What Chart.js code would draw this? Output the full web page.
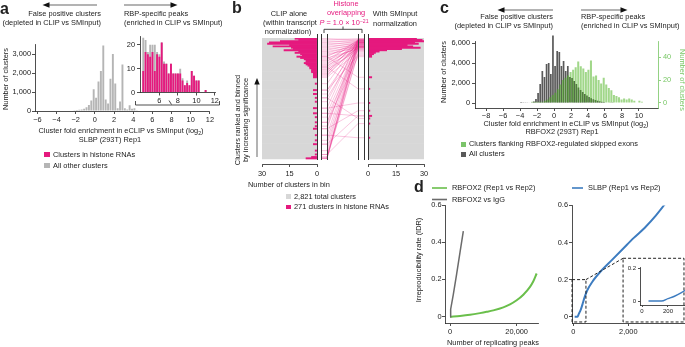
<!DOCTYPE html>
<html><head><meta charset="utf-8">
<script src="https://cdn.jsdelivr.net/npm/chart.js@4.4.1/dist/chart.umd.min.js"></script>
<style>
body{margin:0;background:#fff;width:685px;height:347px;overflow:hidden;position:relative;font-family:'Liberation Sans',Arial,Helvetica,sans-serif;color:#222}
.t{position:absolute;font-size:7.4px;line-height:1;white-space:nowrap;z-index:6}
.lt{position:absolute;font-weight:bold;font-size:16px;line-height:1;z-index:6}
.sq{position:absolute;z-index:6}
canvas{position:absolute}
sub{font-size:70%;vertical-align:-0.3em;line-height:0}
sup{font-size:70%;vertical-align:0.5em;line-height:0}
</style></head><body>
<svg width="685" height="347" style="position:absolute;left:0;top:0;z-index:5" xmlns="http://www.w3.org/2000/svg">
 <line x1="49" y1="5" x2="97" y2="5" stroke="#9a9a9a" stroke-width="1.6"/>
 <polygon points="42.5,5 49.5,2.2 49.5,7.8" fill="#111"/>
 <line x1="124" y1="5" x2="171" y2="5" stroke="#9a9a9a" stroke-width="1.6"/>
 <polygon points="177.5,5 170.5,2.2 170.5,7.8" fill="#111"/>
 <path d="M135.5,101 V105 H219.5 V101" fill="none" stroke="#222" stroke-width="0.8"/>
 <line x1="169" y1="100.5" x2="171.5" y2="104.5" stroke="#222" stroke-width="0.8"/>
 <path d="M324,33 V29.3 H362 V33 M343,29.3 V26.5" fill="none" stroke="#333" stroke-width="0.9"/>
 <line x1="257" y1="157" x2="257" y2="84" stroke="#9a9a9a" stroke-width="1.5"/>
 <polygon points="257,78 254.3,84.5 259.7,84.5" fill="#111"/>
 <line x1="504" y1="10" x2="553" y2="10" stroke="#9a9a9a" stroke-width="1.6"/>
 <polygon points="497.5,10 504.5,7.2 504.5,12.8" fill="#111"/>
 <line x1="581" y1="10" x2="621" y2="10" stroke="#9a9a9a" stroke-width="1.6"/>
 <polygon points="627.5,10 620.5,7.2 620.5,12.8" fill="#111"/>
 <line x1="432" y1="188" x2="447" y2="188" stroke="#6abf4b" stroke-width="1.6"/>
 <line x1="432" y1="199.5" x2="447" y2="199.5" stroke="#6b6b6b" stroke-width="1.6"/>
 <line x1="572" y1="188" x2="583" y2="188" stroke="#3d7cc0" stroke-width="1.6"/>
</svg>
<script>
// ---------- Panel a ----------
const aBinCenters = [-2.375,-2.125,-1.875,-1.625,-1.375,-1.125,-0.875,-0.625,-0.375,-0.125,0.125,0.375,0.625,0.875,1.125,1.375,1.625,1.875,2.125,2.375,2.625,2.875,3.125,3.375,3.625,3.875,4.125,4.375];
const aAllClusters = [20,40,50,60,80,120,200,320,550,1150,700,1550,2100,3450,600,400,1700,3000,1450,150,500,2450,150,80,300,120,150,40];
const aXTicks = [-6,-4,-2,0,2,4,6,8,10,12];
const aYTicks = [0,1000,2000,3000];
const aInsetBins = [4.25,4.5,4.75,5,5.25,5.5,5.75,6,6.25,6.5,6.75,7,7.25,7.5,7.75,8,8.25,8.5,8.75,9,9.25,9.5,9.75,10,10.25,11];
const aInsetTotal = [23,22,17,20,20,20,17,16,21,13,12,8,12,8,8,8,10,6,3,5,3,9,7,5,5,1];
const aInsetHistone = [9,17,16,15,17,9,16,15,21,12,12,8,12,8,8,8,8,5,3,4,3,9,7,5,5,1];
const aInsetXTicks = [6,8,10,12];
const aInsetYTicks = [0,10,20];

// ---------- Panel b ----------
const bBinCount = 94;
const bClustersPerBin = 30;
const bLeftHistone = [12,10,20,26,27,15,24,14,13,18, 10,12,9,8,11,9,7,6,6,7, 6,5,4,4,3,3,3,2,2,2,
 2,0,0,0,0,1,0,0,0,0, 2,0,0,2,0,0,1,0,0,1, 0,0,0,0,2,0,0,0,2,0, 0,1,0,0,0,1,0,0,1,0,
 2,0,0,0,0,1,0,0,0,1, 0,0,2,0,0,0,0,1,0,0, 1,0,3,6];
const bRightHistone = [26,29,30,25,27,21,24,28,18,10, 6,4,3,2,2,0,0,0,0,0, 0,0,0,0,0,0,0,0,0,0,
 2,0,0,0,0,0,0,0,0,1, 0,0,0,0,0,0,0,0,0,0, 1,0,0,0,0,0,1,0,0,0, 2,0,1,0,0,0,1,0,0,0,
 0,0,0,0,0,0,0,1,0,0, 0,0,0,0,0,0,0,0,0,0, 0,0,0,0];
const bXTicks = [0,15,30];
const linkLeftRow  = [0,1,2,3,4,5,6,7,8,9,10,11,12,13,14,15,16,17,18,19,20,21,22,23,24,25,26,27,28,29,30,14,22,35,40,43,46,49,54,58,61,65,68,70,75,79,82,87,90,92,93,93,92,54,70,82,46,90,75,58,93,40,65];
const linkRightRow = [1,0,2,1,3,2,4,3,5,4,6,5,7,6,2,8,3,7,1,6,4,8,2,5,9,3,7,1,6,4,10,30,39,2,5,1,7,3,0,4,8,2,6,1,3,5,9,2,7,4,1,6,11,50,56,60,62,66,77,60,12,13,14];

// ---------- Panel c ----------
const cBinCenters = [-3.875,-3.625,-3.375,-3.125,-2.875,-2.625,-2.375,-2.125,-1.875,-1.625,-1.375,-1.125,-0.875,-0.625,-0.375,-0.125,0.125,0.375,0.625,0.875,1.125,1.375,1.625,1.875,2.125,2.375,2.625,2.875,3.125,3.375,3.625,3.875,4.125,4.375,4.625,4.875,5.125,5.375,5.625,5.875,6.125,6.375,6.625,6.875];
const cAllClusters = [10,15,20,25,35,60,150,400,1000,1900,3200,2600,3900,4000,2900,6750,3700,5200,5100,3700,4200,3200,3700,2600,2500,2200,1900,1550,1300,1100,900,750,600,480,380,300,230,170,120,90,60,40,25,15];
const cFlankBins = [-2.55,-2.25,-1.95,-1.65,-1.35,-1.05,-0.75,-0.45,-0.15,0.15,0.45,0.75,1.05,1.35,1.65,1.95,2.25,2.55,2.85,3.15,3.45,3.75,4.05,4.35,4.65,4.95,5.25,5.55,5.85,6.15,6.45,6.75,7.05,7.35,7.65,7.95,8.25,8.55,8.85,9.15,9.45,9.75,10.05,10.35];
const cFlankClusters = [1,1,1,1,1,2,3,5,7,9,12,16,20,22,24,27,29,31,36,32,30,27,29,37,23,24,20,17,22,16,13,11,7,6,5,3,4,3,4,3,2,0,2,1];
const cXTicks = [-8,-6,-4,-2,0,2,4,6,8,10];
const cYTicks = [0,2000,4000,6000];
const cY2Ticks = [0,20,40];

// ---------- Panel d ----------
const rbfoxRepPeaks = [0,3000,6000,9000,11000,13000,16000,18000,20000,22000,24000,25000,26000];
const rbfoxRepIdr   = [0,0.004,0.01,0.019,0.026,0.034,0.05,0.066,0.088,0.118,0.16,0.19,0.232];
const rbfoxIggPeaks = [0,200,1000,2000,3000,4000];
const rbfoxIggIdr   = [0,0.04,0.12,0.23,0.345,0.46];
const slbpPeaks = [50,100,150,200,250,300,350,400,500,700,1000,1400,1800,2200,2600,3000,3450];
const slbpIdr   = [0,0,0,0.015,0.03,0.05,0.075,0.1,0.14,0.19,0.245,0.305,0.365,0.425,0.48,0.545,0.63];
const dYTicks = [0,0.2,0.4,0.6];
const dLeftXTicks = [0,20000];
const dRightXTicks = [0,2000];
const dInsetXTicks = [0,200];
const dInsetYTicks = [0,0.2];

// ---------- styles ----------
const INK = '#222';
const PINK = '#e5197e';
const GRAY_A = '#b5b5b5';
const GRAY_B = '#d7d7d7';
const DARK = '#595959';
const GREEN_BAR = 'rgba(75,178,30,0.52)';
const GREEN_AX = '#78c765';
const GREEN_LINE = '#6abf4b';
const BLUE = '#3d7cc0';
const FF = "'Liberation Sans', Arial, Helvetica, sans-serif";

function fmt(v){
  const a = Math.abs(v);
  const s = a >= 1000 ? String(a).replace(/\B(?=(\d{3})+(?!\d))/g, ',') : String(a);
  return (v < 0 ? '\u2212' : '') + s;
}
function pts(xs, ys){ return xs.map((x,i)=>({x, y: ys[i]})); }

function ax(o){
  const col = o.color || INK;
  const a = {
    type:'linear', min:o.min, max:o.max, reverse:!!o.reverse, offset:false,
    grid:{display:true, drawOnChartArea:false, drawTicks:true, tickLength:o.tick||3, color:col, lineWidth:0.8, offset:false},
    border:{display:true, color:col, width:0.8},
    ticks:{font:{family:FF, size:o.fs||7.4}, color:o.labelColor||INK, padding:o.pad==null?1:o.pad, maxRotation:0, minRotation:0, autoSkip:false, callback:v=>fmt(v)}
  };
  if (o.ticks) a.afterBuildTicks = s => { s.ticks = o.ticks.map(v=>({value:v})); };
  if (o.size != null) a.afterFit = s => { if (s.isHorizontal()) s.height = o.size; else s.width = o.size; };
  if (o.position) a.position = o.position;
  if (o.axis) a.axis = o.axis;
  return a;
}
function opts(pad, scales, extra){
  return Object.assign({
    responsive:false, animation:false, devicePixelRatio:1, events:[],
    layout:{autoPadding:false, padding:pad},
    plugins:{legend:{display:false}, tooltip:{enabled:false}},
    scales
  }, extra||{});
}
function mk(box, cfg){
  const c = document.createElement('canvas');
  c.width = box.w; c.height = box.h;
  c.style.left = box.l+'px'; c.style.top = box.t+'px';
  c.style.width = box.w+'px'; c.style.height = box.h+'px';
  document.body.appendChild(c);
  return new Chart(c.getContext('2d'), cfg);
}
function T(html, x, y, align, o){
  o = o || {};
  const d = document.createElement('div');
  d.className = 't'; d.innerHTML = html;
  d.style.left = x+'px'; d.style.top = y+'px';
  const tx = align==='right' ? '-100%' : align==='left' ? '0' : '-50%';
  d.style.transform = `translate(${tx},-50%)` + (o.rot ? ` rotate(${o.rot}deg)` : '');
  if (o.color) d.style.color = o.color;
  document.body.appendChild(d);
}
function L(ch, x, top){
  const d = document.createElement('div'); d.className='lt'; d.textContent=ch;
  d.style.left=x+'px'; d.style.top=top+'px'; document.body.appendChild(d);
}
function SQ(x, y, s, col){
  const d = document.createElement('div'); d.className='sq';
  d.style.cssText += `left:${x}px;top:${y}px;width:${s}px;height:${s}px;background:${col}`;
  document.body.appendChild(d);
}

// ---------- Panel a charts ----------
mk({l:0,t:38,w:216,h:90}, {
  type:'bar',
  data:{datasets:[{data:pts(aBinCenters,aAllClusters), backgroundColor:GRAY_A, barPercentage:0.8, categoryPercentage:1}]},
  options:opts({top:6.5,right:5,left:0,bottom:0}, {
    x: ax({min:-6.25,max:12,ticks:aXTicks,size:17,pad:2}),
    y: ax({min:0,max:3500,ticks:aYTicks,size:35,pad:1})
  })
});
mk({l:118,t:30,w:102,h:80}, {
  type:'bar',
  data:{datasets:[
    {data:pts(aInsetBins,aInsetHistone), backgroundColor:PINK, grouped:false, order:0, barPercentage:0.82, categoryPercentage:1},
    {data:pts(aInsetBins,aInsetTotal), backgroundColor:GRAY_A, grouped:false, order:1, barPercentage:0.82, categoryPercentage:1}
  ]},
  options:opts({top:5,right:2,left:0,bottom:0}, {
    x: ax({min:3.9,max:12.1,ticks:aInsetXTicks,size:17.5,pad:1}),
    y: ax({min:0,max:23.5,ticks:aInsetYTicks,size:22,pad:2})
  })
});

// ---------- Panel b charts ----------
const bRows = Array.from({length:bBinCount}, (_, i) => i);
const bYScale = {type:'linear', min:-0.5, max:97.4, reverse:true, display:false, offset:false};
function bDatasets(hist){
  return [
    {data:bRows.map((r,i)=>({x: hist[i] || null, y:r})), backgroundColor:PINK, grouped:false, order:0, barPercentage:1, categoryPercentage:1},
    {data:bRows.map(r=>({x: bClustersPerBin, y:r})), backgroundColor:GRAY_B, grouped:false, order:1, barPercentage:1, categoryPercentage:1}
  ];
}
mk({l:255,t:30,w:65,h:150}, {
  type:'bar', data:{datasets:bDatasets(bLeftHistone)},
  options:opts({top:8,right:3,left:7,bottom:0}, {
    x: ax({min:0,max:30,reverse:true,ticks:bXTicks,size:16,pad:2.5}),
    y: bYScale
  }, {indexAxis:'y'})
});
mk({l:362,t:30,w:70,h:150}, {
  type:'bar', data:{datasets:bDatasets(bRightHistone)},
  options:opts({top:8,right:8,left:6,bottom:0}, {
    x: ax({min:0,max:30,ticks:bXTicks,size:16,pad:2.5}),
    y: bYScale
  }, {indexAxis:'y'})
});
// linking panel: columns in a 0..51 layout scale
const LINK_COLS = [4, 10, 41, 47];
const STRIP_LINES = [0, 4, 10, 41, 47, 51];
const vlines = {id:'vlines', afterDraw(ch){
  const {ctx, scales:{x, y}} = ch;
  ctx.save(); ctx.strokeStyle = '#333'; ctx.lineWidth = 1;
  const y0 = y.getPixelForValue(-3.6), y1 = y.getPixelForValue(94.3);
  STRIP_LINES.forEach(v => { const px = Math.round(x.getPixelForValue(v)) + 0.5; ctx.beginPath(); ctx.moveTo(px, y0); ctx.lineTo(px, y1); ctx.stroke(); });
  ctx.restore();
}};
mk({l:312,t:25,w:62,h:145}, {
  type:'scatter',
  data:{datasets:linkLeftRow.map((lr,i)=>({
    data:[{x:LINK_COLS[0],y:lr},{x:LINK_COLS[1],y:lr},{x:LINK_COLS[2],y:linkRightRow[i]},{x:LINK_COLS[3],y:linkRightRow[i]}],
    showLine:true, borderColor:'rgba(229,25,126,0.35)', borderWidth:0.7, pointRadius:0
  }))},
  options:opts({top:13,right:6,left:5,bottom:6}, {
    x:{type:'linear', min:0, max:51, display:false},
    y:bYScale
  }),
  plugins:[vlines]
});

// ---------- Panel c chart ----------
mk({l:440,t:30,w:245,h:95}, {
  type:'bar',
  data:{datasets:[
    {data:pts(cFlankBins,cFlankClusters), xAxisID:'xg', yAxisID:'y2', backgroundColor:GREEN_BAR, grouped:false, order:0, barPercentage:0.8, categoryPercentage:1},
    {data:pts(cBinCenters,cAllClusters), xAxisID:'x', yAxisID:'y', backgroundColor:DARK, grouped:false, order:1, barPercentage:0.8, categoryPercentage:1, clip:false}
  ]},
  options:opts({top:11.5,right:0,left:0,bottom:0}, {
    x: ax({min:-9.3,max:12.24,ticks:cXTicks,size:17,pad:0.5}),
    xg: {type:'linear', axis:'x', min:-9.3, max:12.24, display:false, offset:false},
    y: ax({min:-500,max:6150,ticks:cYTicks,size:35,pad:2}),
    y2: ax({min:-4.35,max:53.5,ticks:cY2Ticks,size:27,pad:2,position:'right',axis:'y',color:GREEN_AX,labelColor:GREEN_AX})
  })
});

// ---------- Panel d charts ----------
mk({l:425,t:200,w:115,h:147}, {
  type:'line',
  data:{datasets:[
    {data:pts(rbfoxIggPeaks,rbfoxIggIdr), borderColor:'#6b6b6b', borderWidth:1.5, pointRadius:0},
    {data:pts(rbfoxRepPeaks,rbfoxRepIdr), borderColor:GREEN_LINE, borderWidth:2, pointRadius:0, cubicInterpolationMode:'monotone'}
  ]},
  options:opts({top:5,right:2,left:0,bottom:0}, {
    x: ax({min:-1500,max:26400,ticks:dLeftXTicks,size:24,pad:1.5}),
    y: ax({min:-0.034,max:0.6,ticks:dYTicks,size:20,pad:0.5})
  })
});
const ZOOM_SMALL = {x0:-45, x1:460, y0:-0.0285, y1:0.2};
const ZOOM_BIG = {x0:1810, x1:4025, y0:-0.0285, y1:0.315};
const zoomBox = {id:'zoomBox', afterDatasetsDraw(ch){
  const {ctx, scales:{x, y}} = ch;
  const px = v => x.getPixelForValue(v), py = v => y.getPixelForValue(v);
  ctx.save(); ctx.setLineDash([3,2]); ctx.strokeStyle = '#222'; ctx.lineWidth = 1;
  [ZOOM_SMALL, ZOOM_BIG].forEach(b => ctx.strokeRect(px(b.x0), py(b.y1), px(b.x1)-px(b.x0), py(b.y0)-py(b.y1)));
  ctx.beginPath(); ctx.moveTo(px(ZOOM_SMALL.x1), py(ZOOM_SMALL.y1)); ctx.lineTo(px(ZOOM_BIG.x0), py(ZOOM_BIG.y1)); ctx.stroke();
  ctx.restore();
}};
mk({l:548,t:200,w:137,h:147}, {
  type:'line',
  data:{datasets:[{data:pts(slbpPeaks,slbpIdr), borderColor:BLUE, borderWidth:2, pointRadius:0, cubicInterpolationMode:'monotone'}]},
  options:opts({top:5,right:0,left:0,bottom:0}, {
    x: ax({min:-47,max:4062,ticks:dRightXTicks,size:24,pad:1.5}),
    y: ax({min:-0.034,max:0.6,ticks:dYTicks,size:24,pad:1})
  }),
  plugins:[zoomBox]
});
mk({l:616,t:262,w:69,h:56}, {
  type:'line',
  data:{datasets:[{data:pts(slbpPeaks,slbpIdr), borderColor:BLUE, borderWidth:1.5, pointRadius:0, cubicInterpolationMode:'monotone'}]},
  options:opts({top:5,right:0,left:0,bottom:0}, {
    x: ax({min:-15.4,max:331,ticks:dInsetXTicks,size:13,pad:1,tick:2,fs:6}),
    y: ax({min:-0.024,max:0.206,ticks:dInsetYTicks,size:24,pad:2,tick:2,fs:6})
  })
});

// ---------- Text ----------
L('a', 0, 1); L('b', 232, 0); L('c', 440, 0); L('d', 414, 179);
// a
T('False positive clusters', 101, 14, 'right');
T('(depleted in CLIP vs SMInput)', 101, 23, 'right');
T('RBP-specific peaks', 124, 14, 'left');
T('(enriched in CLIP vs SMInput)', 124, 23, 'left');
T('Number of clusters', 6, 79, 'center', {rot:-90});
T('Cluster fold enrichment in eCLIP vs SMInput (log<sub>2</sub>)', 121, 131, 'center');
T('SLBP (293T) Rep1', 110, 140, 'center');
SQ(44, 151.5, 5.5, PINK); T('Clusters in histone RNAs', 53, 154.5, 'left');
SQ(44, 162.5, 5.5, GRAY_A); T('All other clusters', 53, 165.5, 'left');
// b
T('CLIP alone', 289, 14); T('(within transcript', 290, 23); T('normalization)', 288, 32);
T('Histone', 346, 4, 'center', {color:PINK}); T('overlapping', 346, 13, 'center', {color:PINK});
T('<i>P</i> = 1.0 × 10<sup>−21</sup>', 344, 22.5, 'center', {color:PINK});
T('With SMInput', 395, 14); T('normalization', 395, 23.5);
T('Clusters ranked and binned', 237.5, 120, 'center', {rot:-90});
T('by increasing significance', 246, 120, 'center', {rot:-90});
T('Number of clusters in bin', 248, 185, 'left');
SQ(286, 194, 4.5, GRAY_B); T('2,821 total clusters', 294, 196.5, 'left');
SQ(286, 204.5, 4.5, PINK); T('271 clusters in histone RNAs', 294, 207, 'left');
// c
T('False positive clusters', 553, 17, 'right');
T('(depleted in CLIP vs SMInput)', 553, 26, 'right');
T('RBP-specific peaks', 581, 17, 'left');
T('(enriched in CLIP vs SMInput)', 581, 26, 'left');
T('Number of clusters', 444, 72, 'center', {rot:-90});
T('Number of clusters', 681.5, 80, 'center', {rot:90, color:GREEN_AX});
T('Cluster fold enrichment in eCLIP vs SMInput (log<sub>2</sub>)', 566, 123.5);
T('RBFOX2 (293T) Rep1', 562, 132);
SQ(461, 141.5, 5, '#7cc46a'); T('Clusters flanking RBFOX2-regulated skipped exons', 469, 144.3, 'left');
SQ(461, 151.5, 5, DARK); T('All clusters', 469, 154, 'left');
// d
T('RBFOX2 (Rep1 vs Rep2)', 452, 188, 'left');
T('RBFOX2 vs IgG', 452, 199.5, 'left');
T('SLBP (Rep1 vs Rep2)', 588, 188, 'left');
T('Irreproducibility rate (IDR)', 419, 260, 'center', {rot:-90});
T('Number of replicating peaks', 493, 342.5);
</script>
</body></html>
